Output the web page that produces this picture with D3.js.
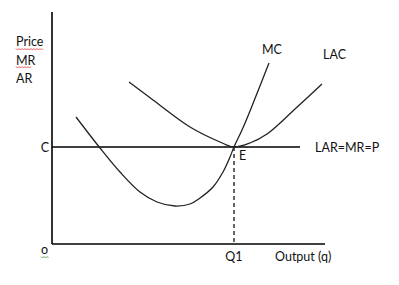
<!DOCTYPE html>
<html>
<head>
<meta charset="utf-8">
<script src="https://cdn.jsdelivr.net/npm/d3@7"></script>
<style>
  body { margin: 0; background: #fff; }
  svg { display: block; }
  text { font-family: Lato, "Open Sans", sans-serif; font-size: 12.5px; fill: #111; }
</style>
</head>
<body>
<svg id="chart" width="399" height="285"></svg>
<script>
// curve data, in chart units (output on x, price on y)
const mcX = [24, 48, 68, 88, 105, 123, 138, 148, 161, 171, 178, 182, 190, 200, 217];
const mcY = [127, 96, 72, 52, 42, 38, 40, 46, 57, 72, 87, 97, 114, 138, 181];
const lacX = [77, 101, 138, 168, 182, 198, 215, 243, 270];
const lacY = [162, 144, 117, 102, 97, 101, 110, 135, 160];
const priceC = 97,
  priceLineEnd = 248,
  q1 = 182;
const yLabels = ["Price", "MR", "AR"];

const $svg = d3.select("#chart");
const x = d3.scaleLinear().domain([0, 270]).range([52, 322]);
const y = d3.scaleLinear().domain([0, 232]).range([244, 12]);

const line = d3
  .line()
  .x((d) => x(d[0]))
  .y((d) => y(d[1]))
  .curve(d3.curveCatmullRom.alpha(0.5));

// axes
$svg.append("line")
  .attr("x1", x(0)).attr("x2", x(0))
  .attr("y1", y(232)).attr("y2", y(0))
  .attr("stroke", "#000").attr("stroke-width", 1.6);
$svg.append("line")
  .attr("x1", x(0)).attr("x2", x(273))
  .attr("y1", y(0)).attr("y2", y(0))
  .attr("stroke", "#000").attr("stroke-width", 1.6);

// price line C = LAR = MR = P
$svg.append("line")
  .attr("x1", x(0)).attr("x2", x(priceLineEnd))
  .attr("y1", y(priceC)).attr("y2", y(priceC))
  .attr("stroke", "#000").attr("stroke-width", 1.5);

// dashed drop to Q1
$svg.append("line")
  .attr("x1", x(q1)).attr("x2", x(q1))
  .attr("y1", y(priceC)).attr("y2", y(0))
  .attr("stroke", "#000").attr("stroke-width", 1.2)
  .attr("stroke-dasharray", "4,3");

$svg.append("path")
  .datum(d3.zip(mcX, mcY))
  .attr("d", line)
  .attr("fill", "none").attr("stroke", "#222").attr("stroke-width", 1.3);
$svg.append("path")
  .datum(d3.zip(lacX, lacY))
  .attr("d", line)
  .attr("fill", "none").attr("stroke", "#222").attr("stroke-width", 1.3);

// labels
yLabels.forEach((t, i) => {
  $svg.append("text").attr("x", 16).attr("y", 46 + i * 18.5).text(t);
});
$svg.append("text").attr("x", 49).attr("y", y(priceC) + 5).attr("text-anchor", "end").text("C");
$svg.append("text").attr("x", 41).attr("y", 254).text("o");
$svg.append("text").attr("x", x(q1) + 5).attr("y", y(priceC) + 13).text("E");
$svg.append("text").attr("x", 262).attr("y", 54).text("MC");
$svg.append("text").attr("x", 323).attr("y", 59).text("LAC");
$svg.append("text").attr("x", 315).attr("y", y(priceC) + 5).text("LAR=MR=P");
$svg.append("text").attr("x", x(q1)).attr("y", 261).attr("text-anchor", "middle").text("Q1");
$svg.append("text").attr("x", 275).attr("y", 261).text("Output (q)");

// spell-check squiggles
function squiggle(x0, x1, yy, color) {
  const pts = [];
  for (let px = x0, k = 0; px <= x1; px += 1.5, k++) pts.push([px, yy + (k % 2 ? 1 : -0.5)]);
  $svg.append("path")
    .attr("d", d3.line()(pts))
    .attr("fill", "none").attr("stroke", color).attr("stroke-width", 0.8);
}
squiggle(16, 43, 49, "#d33");
squiggle(16, 31, 67, "#d33");
squiggle(41, 49, 257, "#4a8a3a");
</script>
</body>
</html>
